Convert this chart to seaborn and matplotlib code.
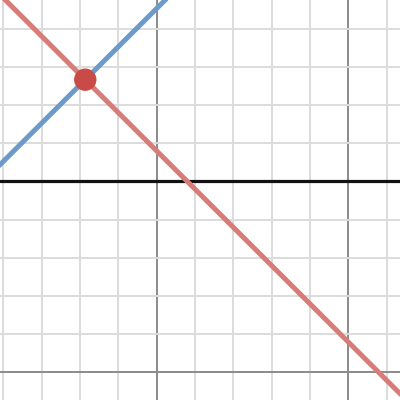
import numpy as np
import pandas as pd
import matplotlib
matplotlib.use('Agg')
import matplotlib.pyplot as plt
import seaborn as sns

# retas (y = a*x + b)
red_slope, red_intercept = -1.0, 5.8
blue_slope, blue_intercept = 1.0, -0.47
x_ends = [0.0, 12.0]

# ponto de intersecao
point_x = [3.135]
point_y = [2.665]

df = pd.DataFrame({
    'x': x_ends * 2,
    'y': [red_slope * v + red_intercept for v in x_ends] + [blue_slope * v + blue_intercept for v in x_ends],
    'reta': ['vermelha', 'vermelha', 'azul', 'azul'],
})

sns.set_style('white')
fig = plt.figure(figsize=(4, 4), dpi=100)
ax = fig.add_axes([0, 0, 1, 1])

xmin, xmax = 0.909, 11.352
ymin, ymax = -5.72, 4.751

# grade
for gx in range(1, 12):
    cor = '#8a8a8a' if gx % 5 == 0 else '#dcdcdc'
    ax.axvline(gx, color=cor, lw=1.4, zorder=0)
for gy in range(-5, 5):
    if gy == 0:
        continue
    cor = '#8a8a8a' if gy % 5 == 0 else '#dcdcdc'
    ax.axhline(gy, color=cor, lw=1.4, zorder=0)
ax.axhline(0, color='#111111', lw=2.3, zorder=1)

sns.lineplot(data=df, x='x', y='y', hue='reta',
             palette={'vermelha': '#d87c79', 'azul': '#6c9bca'},
             lw=3.6, legend=False, ax=ax, zorder=2)
sns.scatterplot(x=point_x, y=point_y, color='#c94b47', s=260, edgecolor='none', ax=ax, zorder=3)

ax.set_xlim(xmin, xmax)
ax.set_ylim(ymin, ymax)
ax.set_xticks([])
ax.set_yticks([])
ax.set_xlabel('')
ax.set_ylabel('')
for s in ax.spines.values():
    s.set_visible(False)

fig.savefig('out.png', dpi=100)
